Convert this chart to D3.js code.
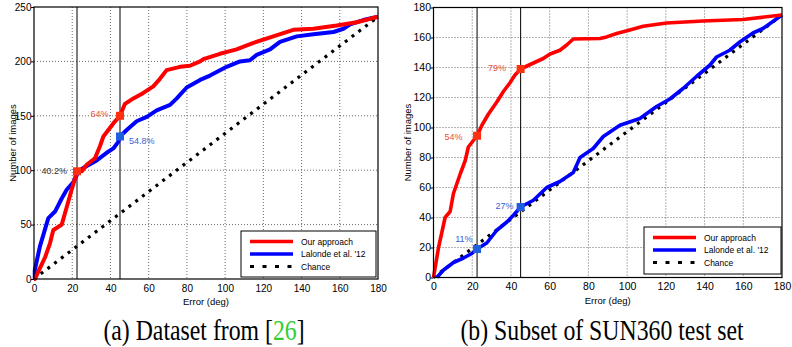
<!DOCTYPE html>
<html lang="en">
<head>
<meta charset="UTF-8">
<title>Cumulative error curves</title>
<script src="https://d3js.org/d3.v7.min.js"></script>
<style>
    body { margin: 0; background: #fff; }
    svg { display: block; }
    .tick text { font-family: "Liberation Sans", Arial, sans-serif; fill: #000; }
    .axis-label { font-family: "Liberation Sans", Arial, sans-serif; font-size: 9.5px; }
    .legend text { font-family: "Liberation Sans", Arial, sans-serif; font-size: 8.5px; }
    .pct { font-family: "Liberation Sans", Arial, sans-serif; font-size: 9px; }
    .caption { font-family: "Liberation Serif", "Times New Roman", serif; font-size: 29px; }
</style>
</head>
<body>
<svg id="chart" width="792" height="347"></svg>
<script>
// ---- data (error in degrees, cumulative number of images) ----
const xTicks = [0, 20, 40, 60, 80, 100, 120, 140, 160, 180];
const yTicksA = [0, 50, 100, 150, 200, 250];
const yTicksB = [0, 20, 40, 60, 80, 100, 120, 140, 160, 180];
const seriesNames = ["Our approach", "Lalonde et al. '12", "Chance"];
const thresholds = [22.5, 45];

// panel (a): dataset from [26], 241 images
const oursA = [[0,0],[0.5,0],[3.1,10],[5.8,20],[8.4,33],[10.1,45],[11,46],[14.5,50],[17.1,66],[19.7,82],
    [20.9,89],[22.5,99],[25,99],[27.6,105],[31.9,111],[34.5,122],[36.3,131],[41.5,143],[45,150],
    [47.6,161],[52,166],[57.2,171],[62.4,177],[65.9,184],[69.4,192],[76.4,195],[81.6,196],[86.9,200],
    [88.6,202],[97.3,207],[106,211],[114.8,217],[125.2,223],[135.7,229],[146.2,230],[158.4,233],
    [168.9,236],[180,241]];
const lalondeA = [[0.4,0],[0.4,8],[3.1,30],[7.5,56],[11,62],[14.5,74],[17.1,82],[20.6,89],[22.5,96],
    [23.2,99],[26.7,103],[32.8,109],[38,116],[41.5,120],[44.1,126],[45,131],[48.5,137],[53.7,145],
    [59,149],[64.2,155],[71.2,160],[74.7,166],[79.9,176],[86.9,183],[92.1,187],[100.8,195],[107.8,200],
    [113,201],[116.5,206],[123.5,211],[128.7,218],[137.5,223],[146.2,225],[156.7,227],[161.9,230],
    [165.4,234],[172.3,238],[180,241]];
const chanceA = [[0,0],[180,241]];
const marksA = [[22.5,99,"ours"],[45,150,"ours"],[45,131,"lalonde"]];
const labelsA = ["40.2%", "64%", "54.8%"];

// panel (b): subset of SUN360 test set, 175 images
const oursB = [[0,0],[2.6,20],[6,40],[8.6,44],[10.3,56],[13.8,69],[16.4,78],[18,87],[19.8,90],[22.5,94.5],
    [25,101.5],[28.4,109],[32.7,117],[36.1,124],[39.6,130],[42.1,135],[45,139],[51.6,143],[56.7,146],
    [60.2,149],[65.3,151.5],[68.8,155],[72.2,159],[86,159.3],[89.4,160.4],[94.6,162.7],[101.4,165],
    [108.3,167.5],[120.4,169.7],[139.2,171],[159.9,172],[180,175]];
const lalondeB = [[1.7,0],[5.2,5],[10.3,10],[15.5,13],[19.8,16],[22.5,19],[27.5,23],[32.7,31.5],[37.9,37],
    [41.3,41.5],[45,47],[51.6,51.5],[58.5,60],[65.3,64],[72.2,70],[75.7,80],[82.5,86],[87.7,94],
    [96.3,101.5],[106.6,106],[115.2,114],[122.1,119],[128.9,126],[135.8,134],[142.7,141.5],[146.2,147],
    [153,151.5],[158.2,157],[165,163],[170.2,166],[180,175]];
const chanceB = [[0,0],[180,175]];
const marksB = [[22.5,94.5,"ours"],[45,139,"ours"],[22.5,19,"lalonde"],[45,47,"lalonde"]];
const labelsB = ["54%", "79%", "11%", "27%"];

const svg = d3.select("#chart");
const colors = { ours: "#ff0000", lalonde: "#0000ff" };
const markColors = { ours: "#ff3010", lalonde: "#1f5fe0" };
const labelColors = { ours: "#e8503c", lalonde: "#3a62d0" };

function drawPanel(p) {
    const x = d3.scaleLinear().domain([0, 180]).range([p.left, p.right]);
    const y = d3.scaleLinear().domain([0, p.ymax]).range([p.bottom, p.top]);
    const g = svg.append("g");

    // dotted grid
    g.append("g").selectAll("line").data(xTicks.slice(1, -1)).join("line")
        .attr("x1", d => x(d)).attr("x2", d => x(d))
        .attr("y1", p.top).attr("y2", p.bottom)
        .attr("stroke", "#444").attr("stroke-width", 0.8).attr("stroke-dasharray", "1,2");
    g.append("g").selectAll("line").data(p.yTicks.slice(1, -1)).join("line")
        .attr("y1", d => y(d)).attr("y2", d => y(d))
        .attr("x1", p.left).attr("x2", p.right)
        .attr("stroke", "#444").attr("stroke-width", 0.8).attr("stroke-dasharray", "1,2");

    // axes
    const xAxis = g.append("g").attr("transform", `translate(0,${p.bottom})`)
        .call(d3.axisBottom(x).tickValues(xTicks).tickSize(0).tickPadding(4));
    const yAxis = g.append("g").attr("transform", `translate(${p.left},0)`)
        .call(d3.axisLeft(y).tickValues(p.yTicks).tickSize(3).tickPadding(0));
    [xAxis, yAxis].forEach(a => {
        a.select(".domain").remove();
        a.selectAll(".tick text").style("font-size", p.tickFont + "px");
    });
    xAxis.selectAll(".tick text").attr("dy", "0.85em");
    yAxis.selectAll(".tick text").attr("x", -2.5);

    // threshold lines
    g.selectAll(".thr").data(thresholds).join("line")
        .attr("x1", d => x(d)).attr("x2", d => x(d))
        .attr("y1", p.top).attr("y2", p.bottom)
        .attr("stroke", "#000").attr("stroke-width", 1);

    const line = d3.line().x(d => x(d[0])).y(d => y(d[1]));

    g.append("path").datum(p.chance).attr("d", line)
        .attr("fill", "none").attr("stroke", "#000").attr("stroke-width", 3.2)
        .attr("stroke-dasharray", "3,5.5");
    g.append("path").datum(p.lalonde).attr("d", line)
        .attr("fill", "none").attr("stroke", colors.lalonde).attr("stroke-width", p.lw)
        .attr("stroke-linejoin", "round");
    g.append("path").datum(p.ours).attr("d", line)
        .attr("fill", "none").attr("stroke", colors.ours).attr("stroke-width", p.lw)
        .attr("stroke-linejoin", "round");

    // markers
    g.selectAll(".mk").data(p.marks).join("rect")
        .attr("x", d => x(d[0]) - 4).attr("y", d => y(d[1]) - 4)
        .attr("width", 8).attr("height", 8)
        .attr("fill", d => markColors[d[2]]);

    // percentage labels
    g.selectAll(".pct").data(p.marks).join("text")
        .attr("class", "pct")
        .attr("x", (d, i) => x(d[0]) + p.labelOff[i][0])
        .attr("y", (d, i) => y(d[1]) + p.labelOff[i][1])
        .attr("text-anchor", (d, i) => p.labelOff[i][2])
        .attr("fill", (d, i) => p.labelFill[i] || labelColors[d[2]])
        .text((d, i) => p.labels[i]);

    // frame
    g.append("rect").attr("x", p.left).attr("y", p.top)
        .attr("width", p.right - p.left).attr("height", p.bottom - p.top)
        .attr("fill", "none").attr("stroke", "#000").attr("stroke-width", 1.2);

    // axis titles
    g.append("text").attr("class", "axis-label")
        .attr("x", (p.left + p.right) / 2).attr("y", p.bottom + 26)
        .attr("text-anchor", "middle").text("Error (deg)");
    g.append("text").attr("class", "axis-label")
        .attr("transform", `translate(${p.left - p.yTitleGap},${(p.top + p.bottom) / 2}) rotate(-90)`)
        .attr("text-anchor", "middle").text("Number of images");

    // legend
    const lg = g.append("g").attr("class", "legend");
    lg.append("rect").attr("x", p.legend[0]).attr("y", p.legend[1])
        .attr("width", p.legend[2]).attr("height", p.legend[3])
        .attr("fill", "#fff").attr("stroke", "#000").attr("stroke-width", 1);
    const styles = [
        { c: colors.ours, w: 3.5, dash: null },
        { c: colors.lalonde, w: 3.5, dash: null },
        { c: "#000", w: 3.2, dash: "4,8.5" }
    ];
    seriesNames.forEach((name, i) => {
        const yy = p.legend[1] + 10.5 + i * 12.5;
        const l = lg.append("line")
            .attr("x1", p.legend[0] + 9).attr("x2", p.legend[0] + 52)
            .attr("y1", yy).attr("y2", yy)
            .attr("stroke", styles[i].c).attr("stroke-width", styles[i].w);
        if (styles[i].dash) l.attr("stroke-dasharray", styles[i].dash);
        lg.append("text").attr("x", p.legend[0] + 60).attr("y", yy + 3).text(name);
    });
}

drawPanel({
    left: 34, right: 378, top: 7, bottom: 279, ymax: 250, yTicks: yTicksA, tickFont: 10, lw: 4,
    ours: oursA, lalonde: lalondeA, chance: chanceA, marks: marksA, labels: labelsA,
    labelOff: [[-10, 3, "end"], [-11.5, 1.5, "end"], [9, 7.5, "start"]],
    labelFill: ["#333"], yTitleGap: 18,
    legend: [241, 231, 135, 46]
});
drawPanel({
    left: 433.5, right: 782, top: 7.5, bottom: 277.5, ymax: 180, yTicks: yTicksB, tickFont: 10.5, lw: 3.6,
    ours: oursB, lalonde: lalondeB, chance: chanceB, marks: marksB, labels: labelsB,
    labelOff: [[-14.5, 4, "end"], [-14.5, 2, "end"], [-4.5, -7, "end"], [-7, 1.5, "end"]],
    labelFill: [], yTitleGap: 23,
    legend: [644, 227, 137, 47]
});

// sub-figure captions (the source's serif captions look horizontally condensed)
const capA = svg.append("text").attr("class", "caption")
    .attr("transform", "translate(204,340) scale(0.82,1)").attr("text-anchor", "middle");
capA.append("tspan").text("(a) Dataset from [");
capA.append("tspan").attr("fill", "#33cc33").text("26");
capA.append("tspan").text("]");
svg.append("text").attr("class", "caption")
    .attr("transform", "translate(602,340) scale(0.82,1)").attr("text-anchor", "middle")
    .text("(b) Subset of SUN360 test set");
</script>
</body>
</html>
